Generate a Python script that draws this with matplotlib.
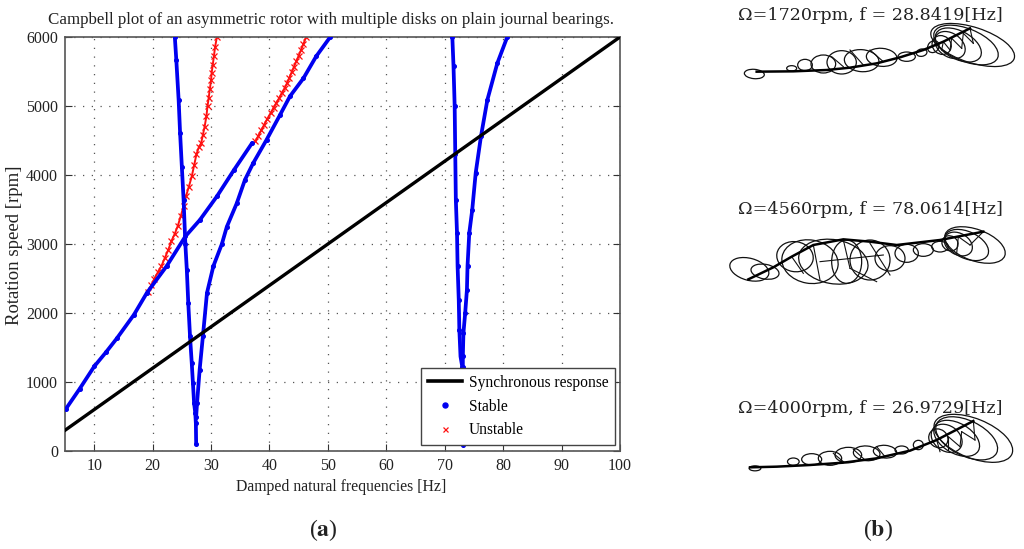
import matplotlib
matplotlib.use("Agg")
import matplotlib.pyplot as plt
from matplotlib.lines import Line2D
from matplotlib.patches import Ellipse

plt.rcParams['font.family'] = ['Liberation Serif', 'DejaVu Serif']
plt.rcParams['mathtext.fontset'] = 'stix'

BLUE = '#0000f0'
RED = '#ff1010'

sync_x = [5, 10, 20, 30, 40, 50, 60, 70, 80, 90, 100]
sync_y = [300, 600, 1200, 1800, 2400, 3000, 3600, 4200, 4800, 5400, 6000]

low_left_x = [27.45, 27.4, 27.3, 27.1, 26.9, 26.7, 26.4, 26.1, 25.85, 25.6, 25.3, 25.0, 24.7, 24.45, 24.05, 23.8]
low_left_y = [100, 400, 550, 690, 980, 1270, 1660, 2145, 2630, 3000, 3640, 4120, 4610, 5090, 5670, 6000]

low_right_x = [27.45, 27.6, 28.05, 28.6, 29.3, 30.4, 31.85, 32.7, 34.4, 35.8, 37.2, 39.5, 41.8, 43.5, 45.8, 48.0, 50.4]
low_right_y = [500, 690, 1180, 1660, 2290, 2680, 3000, 3250, 3590, 3930, 4170, 4510, 4870, 5140, 5400, 5720, 6000]

whirl_x = [5.15, 7.5, 10.0, 12.0, 13.9, 16.8, 19.0, 22.4, 25.6, 28.1, 31.0, 33.9, 37.0]
whirl_y = [610, 900, 1225, 1430, 1635, 1975, 2290, 2680, 3110, 3350, 3690, 4070, 4460]

high_left_x = [73.2, 73.1, 73.0, 72.7, 72.5, 72.4, 72.2, 72.1, 71.9, 71.8, 71.7, 71.5, 71.3]
high_left_y = [90, 700, 1220, 1370, 1760, 2190, 2680, 3160, 3640, 4310, 5000, 5580, 6000]

high_right_x = [73.1, 73.1, 73.2, 73.5, 73.8, 73.9, 74.2, 74.7, 75.3, 76.2, 77.3, 79.0, 80.7]
high_right_y = [1220, 1370, 1710, 2000, 2340, 2680, 3160, 3490, 4030, 4560, 5090, 5620, 6000]

red_a_x = [19.2, 19.8, 20.3, 20.9, 21.5, 22.1, 22.7, 23.2, 23.8, 24.3, 24.8, 25.3, 25.7, 26.2, 26.7, 27.1, 27.5, 27.9,
           28.3, 28.6, 28.9, 29.2, 29.4, 29.6, 29.8, 30.0, 30.1, 30.3, 30.5, 30.7, 31.0]
red_a_y = [2300, 2400, 2500, 2590, 2680, 2800, 2920, 3040, 3150, 3260, 3400, 3550, 3690, 3830, 3980, 4140, 4300, 4400,
           4460, 4580, 4700, 4850, 5000, 5120, 5250, 5370, 5480, 5600, 5730, 5860, 6000]

red_b_x = [37.6, 38.1, 38.6, 39.1, 39.6, 40.2, 40.7, 41.2, 41.7, 42.1, 42.6, 43.0, 43.4, 43.8, 44.2, 44.6, 45.0, 45.4, 45.8, 46.3]
red_b_y = [4490, 4570, 4650, 4730, 4810, 4900, 4975, 5050, 5120, 5190, 5260, 5330, 5410, 5490, 5570, 5650, 5730, 5810, 5900, 6000]

x_ticks = [10, 20, 30, 40, 50, 60, 70, 80, 90, 100]
y_ticks = [0, 1000, 2000, 3000, 4000, 5000, 6000]

panel_titles = ['\u03a9=1720rpm, f = 28.8419[Hz]',
                '\u03a9=4560rpm, f = 78.0614[Hz]',
                '\u03a9=4000rpm, f = 26.9729[Hz]']

spine_1 = [(140, 215), (250, 214), (350, 210), (420, 203), (500, 190), (570, 172), (640, 150), (700, 125), (780, 85)]
orbits_1 = [(133, 222, 60, 28, 5), (245, 205, 30, 16, 0), (285, 195, 44, 34, 0), (340, 192, 74, 54, 0),
            (395, 187, 88, 70, 0), (455, 182, 104, 66, 5), (515, 172, 92, 54, 5), (590, 170, 52, 28, 0),
            (635, 158, 32, 22, -10), (788, 135, 262, 106, 18), (768, 135, 205, 98, 22), (745, 135, 150, 84, 28),
            (720, 135, 100, 70, 35), (695, 135, 60, 54, 40), (670, 140, 32, 38, 40)]
chords_1 = [(780, 85, 790, 130), (790, 130, 760, 100), (760, 100, 755, 145), (755, 145, 725, 115), (725, 115, 720, 150),
            (720, 150, 700, 125), (700, 125, 695, 150), (365, 170, 400, 200), (420, 150, 460, 195), (480, 150, 520, 185)]

spine_2 = [(115, 268), (190, 232), (245, 200), (310, 165), (400, 148), (480, 155), (560, 165), (690, 150), (820, 125)]
orbits_2 = [(118, 238, 120, 66, 15), (165, 245, 85, 44, 10), (255, 200, 110, 90, 10), (300, 215, 170, 130, 10),
            (370, 215, 210, 132, 10), (410, 215, 90, 130, 0), (480, 210, 120, 120, 0), (540, 205, 90, 76, 0),
            (590, 190, 70, 54, 0), (640, 180, 60, 38, 0), (690, 170, 50, 32, 0),
            (795, 165, 190, 94, 20), (770, 165, 140, 80, 25), (745, 162, 90, 64, 30), (720, 160, 50, 44, 30)]
chords_2 = [(245, 200, 280, 250), (310, 165, 330, 270), (400, 150, 420, 235), (330, 215, 520, 195), (420, 235, 500, 275),
            (480, 160, 540, 255), (820, 125, 780, 165), (780, 165, 745, 140), (745, 140, 740, 190)]

spine_3 = [(120, 232), (200, 230), (300, 225), (400, 218), (500, 205), (600, 182), (680, 150), (790, 93)]
orbits_3 = [(135, 235, 35, 15, 0), (250, 215, 35, 22, 0), (305, 208, 60, 34, 0), (360, 205, 70, 42, 0),
            (415, 195, 80, 46, 0), (470, 190, 80, 44, 5), (525, 185, 70, 38, 5), (575, 180, 40, 24, 0),
            (625, 165, 30, 28, 0), (790, 145, 250, 118, 22), (770, 145, 200, 106, 26), (740, 145, 150, 90, 30),
            (710, 145, 100, 76, 35), (685, 145, 60, 54, 40)]
chords_3 = [(790, 93, 795, 150), (795, 150, 755, 125), (755, 125, 750, 170), (750, 170, 715, 140), (715, 140, 715, 180),
            (680, 150, 690, 185), (370, 190, 400, 215), (430, 178, 465, 210), (500, 170, 525, 200)]

W, H = 1024, 549
fig = plt.figure(figsize=(W / 100, H / 100), dpi=100)
ax = fig.add_axes([65 / W, 1 - 451 / H, (620 - 65) / W, (451 - 37) / H])

dot = dict(color=BLUE, marker='o', ms=2.6, lw=2.7, solid_capstyle='round', zorder=3)
for xs, ys in [(low_left_x, low_left_y), (low_right_x, low_right_y), (whirl_x, whirl_y),
               (high_left_x, high_left_y), (high_right_x, high_right_y)]:
    ax.plot(xs, ys, **dot)
cross = dict(color=RED, marker='x', ms=4.5, mew=0.9, lw=1.4, zorder=2)
ax.plot(red_a_x, red_a_y, **cross)
ax.plot(red_b_x, red_b_y, **cross)
ax.plot(sync_x, sync_y, color='black', lw=2.4, zorder=4)

ax.set_xlim(5, 100)
ax.set_ylim(0, 6000)
ax.set_xticks(x_ticks)
ax.set_yticks(y_ticks)
ax.tick_params(direction='in', length=5, width=0.8, color='#333333', labelsize=11.5, pad=5,
               top=False, right=True, labelcolor='#222222')
ax.grid(True, color='#555555', ls=(0, (1, 6)), lw=0.9)
for s in ax.spines.values():
    s.set_color('#555555')
    s.set_linewidth(1.2)
ax.set_axisbelow(True)
ax.set_xlabel('Damped natural frequencies [Hz]', fontsize=11.3, color='#222222')
ax.xaxis.set_label_coords((341 - 65) / 555, -(487 - 451) / 414)
ax.xaxis.label.set_va('center')
ax.set_ylabel('Rotation speed [rpm]', fontsize=13.5, color='#222222')
ax.yaxis.set_label_coords((15 - 65) / 555, (451 - 245) / 414)
ax.yaxis.label.set_va('center')
ax.set_title('Campbell plot of an asymmetric rotor with multiple disks on plain journal bearings.',
             fontsize=12.15, color='#222222', pad=9, x=(331 - 65) / 555)

handles = [Line2D([], [], color='black', lw=2.6),
           Line2D([], [], color=BLUE, marker='o', ls='', ms=3.6),
           Line2D([], [], color=RED, marker='x', ls='', ms=3.6, mew=0.9)]
leg = ax.legend(handles, ['Synchronous response', 'Stable', 'Unstable'], loc='lower right',
                bbox_to_anchor=((615 - 65) / 555, 6 / 414), borderaxespad=0, fontsize=11.2,
                fancybox=False, framealpha=1, edgecolor='#444444', handlelength=2.2,
                labelspacing=0.5, borderpad=0.42, handletextpad=0.45)
leg.get_frame().set_linewidth(1.0)
leg.set_zorder(10)

panels = [(0, 120, 45, spine_1, orbits_1, chords_1),
          (190, 140, 60, spine_2, orbits_2, chords_2),
          (390, 159, 55, spine_3, orbits_3, chords_3)]
for (y0, h, ty, spine, orbits, chords), title in zip(panels, panel_titles):
    pa = fig.add_axes([710 / W, 1 - (y0 + h) / H, 314 / W, h / H])
    pa.set_xlim(0, 942)
    pa.set_ylim(h * 3, 0)
    pa.axis('off')
    for cx, cy, w, hh, ang in orbits:
        pa.add_patch(Ellipse((cx, cy), w, hh, angle=ang, fill=False, ec='#111111', lw=0.9))
    for x1, y1, x2, y2 in chords:
        pa.plot([x1, x2], [y1, y2], color='#111111', lw=0.8)
    pa.plot([p[0] for p in spine], [p[1] for p in spine], color='black', lw=1.8)
    pa.text(480, ty, title, ha='center', va='center', fontsize=12.6, color='#222222',
            family=['DejaVu Serif'])

fig.text(323 / W, 1 - 530 / H, r'($\mathbf{a}$)', ha='center', va='center', fontsize=17, color='#222222')
fig.text(878 / W, 1 - 530 / H, r'($\mathbf{b}$)', ha='center', va='center', fontsize=17, color='#222222')

fig.savefig('out.png', dpi=100)
